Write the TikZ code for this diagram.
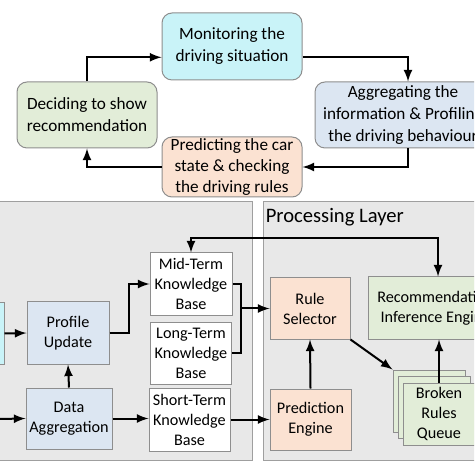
\documentclass[tikz,border=0pt]{standalone}
\usepackage{fontspec}
\setmainfont{Carlito}
\usepackage{tikz}
\usetikzlibrary{positioning}
\usetikzlibrary{arrows}
\usepackage{xcolor}
\definecolor{cyanfill}{HTML}{C9F3F8}
\definecolor{bluefill}{HTML}{DCE6F2}
\definecolor{greenfill}{HTML}{E2EDD8}
\definecolor{peachfill}{HTML}{FBE2D2}
\definecolor{panelgray}{HTML}{E8E8E8}
\definecolor{linegray}{HTML}{8E8E8E}

\begin{document}
\begin{tikzpicture}[thick,>=latex,x=0.5pt,y=-0.5pt,
  stage/.style={draw=linegray,line width=0.5pt,rounded corners=5pt,align=center,inner sep=0pt,minimum width=70pt,minimum height=33pt,font=\fontsize{8.6}{11}\selectfont},
  block/.style={draw=linegray,line width=0.5pt,align=center,inner sep=0pt,minimum width=41pt,minimum height=31pt,font=\fontsize{8.1}{10}\selectfont},
  layer/.style={fill=panelgray,draw=gray!75,line width=0.5pt},
  link/.style={->,line width=1pt}]
\clip (0,0) rectangle (474,474);
\fill [white] (0,0) rectangle (474,474);

% driving cycle
\node [stage,fill=cyanfill,minimum height=33.5pt,at={(232,46.5)}] (monitor) {Monitoring the\\driving situation};
\node [stage,fill=greenfill,at={(87,115)}] (decide) {Deciding to show\\recommendation};
\node [stage,fill=bluefill,minimum width=88pt,at={(403,115)}] (aggreg) {Aggregating the\\information \& Profiling\\the driving behaviour};
\node [stage,fill=peachfill,minimum height=30pt,font=\fontsize{8.6}{10.4}\selectfont,at={(232,167)}] (predict) {Predicting the car\\state \& checking\\the driving rules};

\draw [link] (decide.north) |- ([yshift=-5.4pt]monitor.west);
\draw [link] ([yshift=-5.4pt]monitor.east) -| ([xshift=2.5pt]aggreg.north);
\draw [link] ([xshift=2.5pt]aggreg.south) |- (predict.east);
\draw [link] (predict.west) -| (decide.south);

% layers
\draw [layer] (-10,202) rectangle (252,460);
\draw [layer] (263,202) rectangle (490,460);
\node [anchor=west,inner sep=0pt,font=\fontsize{10.3}{12}\selectfont,at={(265,217)}] (proclabel) {Processing Layer};

% left layer
\node [block,fill=cyanfill,minimum width=9pt,minimum height=30.5pt,at={(-5,333.5)}] (sensor) {};
\node [block,fill=bluefill,at={(68,333)}] (profile) {Profile\\Update};
\node [block,fill=bluefill,minimum width=43pt,minimum height=30.5pt,at={(69,418.5)}] (dataagg) {Data\\Aggregation};
\node [block,fill=white,at={(191,284)}] (midkb) {Mid-Term\\Knowledge\\Base};
\node [block,fill=white,minimum width=40.5pt,below=3pt,at=(midkb.south)] (longkb) {Long-Term\\Knowledge\\Base};
\node [block,fill=white,minimum width=40.5pt,minimum height=31.5pt,at={(189.5,419.5)}] (shortkb) {Short-Term\\Knowledge\\Base};
\coordinate (datain) at (-2,419);
\coordinate (kbjoin) at (241,308.5);
\coordinate (kbbus) at (300,238);

% right layer
\node [block,fill=peachfill,minimum width=40pt,minimum height=30.5pt,at={(310,308.5)}] (rulesel) {Rule\\Selector};
\node [block,fill=peachfill,minimum width=40.5pt,minimum height=30.5pt,at={(310.5,419.5)}] (predeng) {Prediction\\Engine};
\node [block,fill=greenfill,minimum width=67.5pt,at={(435.5,308)}] (recom) {Recommendation\\Inference Engine};
\node [block,fill=greenfill,minimum width=36pt,at={(429,401)}] (queueback) {};
\node [block,fill=greenfill,minimum width=36pt,at={(434,407.5)}] (queuemid) {};
\node [block,fill=greenfill,minimum width=36pt,at={(439,414)}] (queue) {Broken\\Rules\\Queue};

\draw [link] (sensor.east) -- (profile.west);
\draw [link] (datain) -- (dataagg.west);
\draw [link] (dataagg.north) -- (profile.south);
\draw [link] (profile.east) -- ++(19,0) |- (midkb.west);
\draw [link] (dataagg.east) -- (dataagg.east -| shortkb.west);
\draw [line width=1pt] (midkb.east) -| (kbjoin) |- (longkb.east);
\draw [link] (kbjoin) -- (kbjoin -| rulesel.west);
\draw [link] (shortkb.east) -- (shortkb.east -| predeng.west);
\draw [link,<->] (midkb.north) |- (kbbus) -| ([xshift=1.25pt]recom.north);
\draw [link] (predeng.north) -- (rulesel.south);
\draw [link] (rulesel.south east) -- (queueback.north west);
\draw [link] (queue.north) -- (queue.north |- recom.south);
\end{tikzpicture}
\end{document}
